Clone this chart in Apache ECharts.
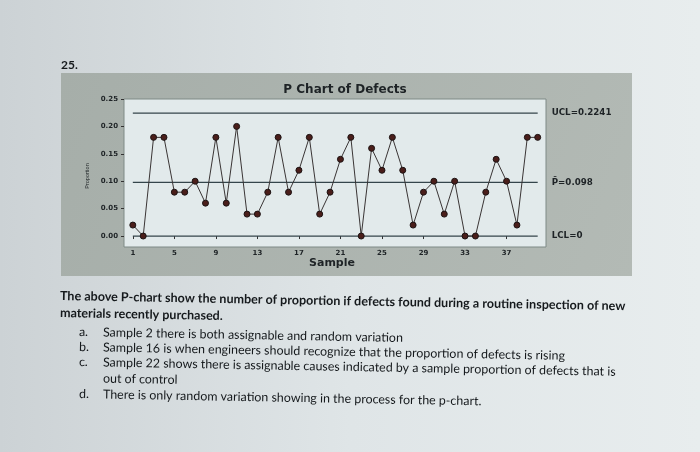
<!DOCTYPE html>
<html>
<head>
<meta charset="utf-8">
<script src="https://cdn.jsdelivr.net/npm/echarts@6/dist/echarts.min.js"></script>
<style>
html,body{margin:0;padding:0;background:#dfe5e7;}
#chart{width:700px;height:452px;}
</style>
</head>
<body>
<div id="chart"></div>
<script>
// ---- data ----
const samples = [1,2,3,4,5,6,7,8,9,10,11,12,13,14,15,16,17,18,19,20,21,22,23,24,25,26,27,28,29,30,31,32,33,34,35,36,37,38,39,40];
const proportions = [0.02,0.00,0.18,0.18,0.08,0.08,0.10,0.06,0.18,0.06,0.20,0.04,0.04,0.08,0.18,0.08,0.12,0.18,0.04,0.08,0.14,0.18,0.00,0.16,0.12,0.18,0.12,0.02,0.08,0.10,0.04,0.10,0.00,0.00,0.08,0.14,0.10,0.02,0.18,0.18];
const ucl = 0.2241;
const centerLine = 0.098;
const lcl = 0;
const xTickLabels = [1,5,9,13,17,21,25,29,33,37];
const yTickLabels = [0.00,0.05,0.10,0.15,0.20,0.25];
const chartTitle = 'P Chart of Defects';
const questionNo = '25.';
const introLines = ['The above P-chart show the number of proportion if defects found during a routine inspection of new','materials recently purchased.'];
const optionLetters = ['a.','b.','c.','','d.'];
const optionTexts = ['Sample 2 there is both assignable and random variation','Sample 16 is when engineers should recognize that the proportion of defects is rising','Sample 22 shows there is assignable causes indicated by a sample proportion of defects that is','out of control','There is only random variation showing in the process for the p-chart.'];

// ---- helpers ----
const cv = document.createElement('canvas').getContext('2d');
function fitSize(text, weight, family, target){
  cv.font = weight + ' 100px "' + family + '"';
  return 100 * target / cv.measureText(text).width;
}
const boldSize = fitSize(introLines[0], 'bold', 'Lato', 566);
const regSize = fitSize(optionTexts[2], 'normal', 'Lato', 513);
const rot = -0.018;
const textCol = '#15191c';

const graphics = [];
// chart panel
graphics.push({type:'rect', z:-10, shape:{x:61,y:73,width:571,height:203},
  style:{fill:new echarts.graphic.LinearGradient(0,0,1,1,[{offset:0,color:'#a6aea9'},{offset:1,color:'#b3bab5'}])}});
graphics.push({type:'text', x:61, y:65, style:{text:questionNo, font:'bold 12px Lato', fill:textCol, verticalAlign:'middle'}});
graphics.push({type:'text', x:345, y:90, style:{text:chartTitle, font:'bold 12px "DejaVu Sans"', fill:'#1e2326', align:'center', verticalAlign:'middle'}});
graphics.push({type:'text', x:332, y:263, style:{text:'Sample', font:'bold 11px "DejaVu Sans"', fill:'#1e2326', align:'center', verticalAlign:'middle'}});
graphics.push({type:'text', x:87, y:176, rotation:Math.PI/2, style:{text:'Proportion', font:'5.5px "Liberation Sans"', fill:'#1e2326', align:'center', verticalAlign:'middle'}});

const introY = [296, 313];
introLines.forEach((t,i)=>{
  graphics.push({type:'text', x:60, y:introY[i], rotation:rot, style:{text:t, font:'bold '+boldSize.toFixed(2)+'px Lato', fill:textCol, verticalAlign:'middle'}});
});
const optY = [332, 347, 362, 378, 394];
optionTexts.forEach((t,i)=>{
  if(optionLetters[i]) graphics.push({type:'text', x:79, y:optY[i], rotation:rot, style:{text:optionLetters[i], font:regSize.toFixed(2)+'px Lato', fill:textCol, verticalAlign:'middle'}});
  graphics.push({type:'text', x:103, y:optY[i]+0.5, rotation:rot, style:{text:t, font:regSize.toFixed(2)+'px Lato', fill:textCol, verticalAlign:'middle'}});
});

const first = samples[0], last = samples[samples.length-1];
function limitSeries(name, v, label){
  return {name, type:'line', data:[[first,v],[last,v]], symbol:'none', silent:true,
    lineStyle:{color:'#34454b', width:1.3}, z:2,
    endLabel:{show:true, formatter:label, distance:14, color:'#1e2326', fontFamily:'DejaVu Sans', fontWeight:'bold', fontSize:8.7}};
}

const chart = echarts.init(document.getElementById('chart'), null, {renderer:'canvas'});
chart.setOption({
  animation:false,
  backgroundColor:new echarts.graphic.LinearGradient(0,0,1,0,[{offset:0,color:'#ccd2d5'},{offset:0.5,color:'#dfe5e7'},{offset:1,color:'#e8edee'}]),
  grid:{left:124, top:99, width:422, height:148, show:true, backgroundColor:'#e2eaeb', borderColor:'#7f8a86', borderWidth:1},
  xAxis:{type:'value', min:0.15, max:40.8, splitLine:{show:false},
    axisLine:{show:false},
    axisTick:{show:true, length:3, lineStyle:{color:'#333'}, customValues:xTickLabels},
    axisLabel:{customValues:xTickLabels, margin:3, fontSize:7, fontWeight:'bold', fontFamily:'DejaVu Sans', color:'#1e2326'}},
  yAxis:{type:'value', min:-0.02, max:0.25, splitLine:{show:false},
    axisLine:{show:false},
    axisTick:{show:true, length:3, lineStyle:{color:'#333'}, customValues:yTickLabels},
    axisLabel:{customValues:yTickLabels, margin:6, fontSize:7, fontWeight:'bold', fontFamily:'DejaVu Sans', color:'#1e2326', formatter:v=>v.toFixed(2)}},
  series:[
    limitSeries('UCL', ucl, 'UCL=0.2241'),
    limitSeries('Center', centerLine, 'P\u0304=0.098'),
    limitSeries('LCL', lcl, 'LCL=0'),
    {name:'Proportion', type:'line', z:3, data:samples.map((s,i)=>[s,proportions[i]]),
      symbol:'circle', symbolSize:6,
      itemStyle:{color:'#4a1e1a', borderColor:'#1d1414', borderWidth:1},
      lineStyle:{color:'#3a3535', width:1}}
  ],
  graphic:graphics
});
</script>
</body>
</html>
